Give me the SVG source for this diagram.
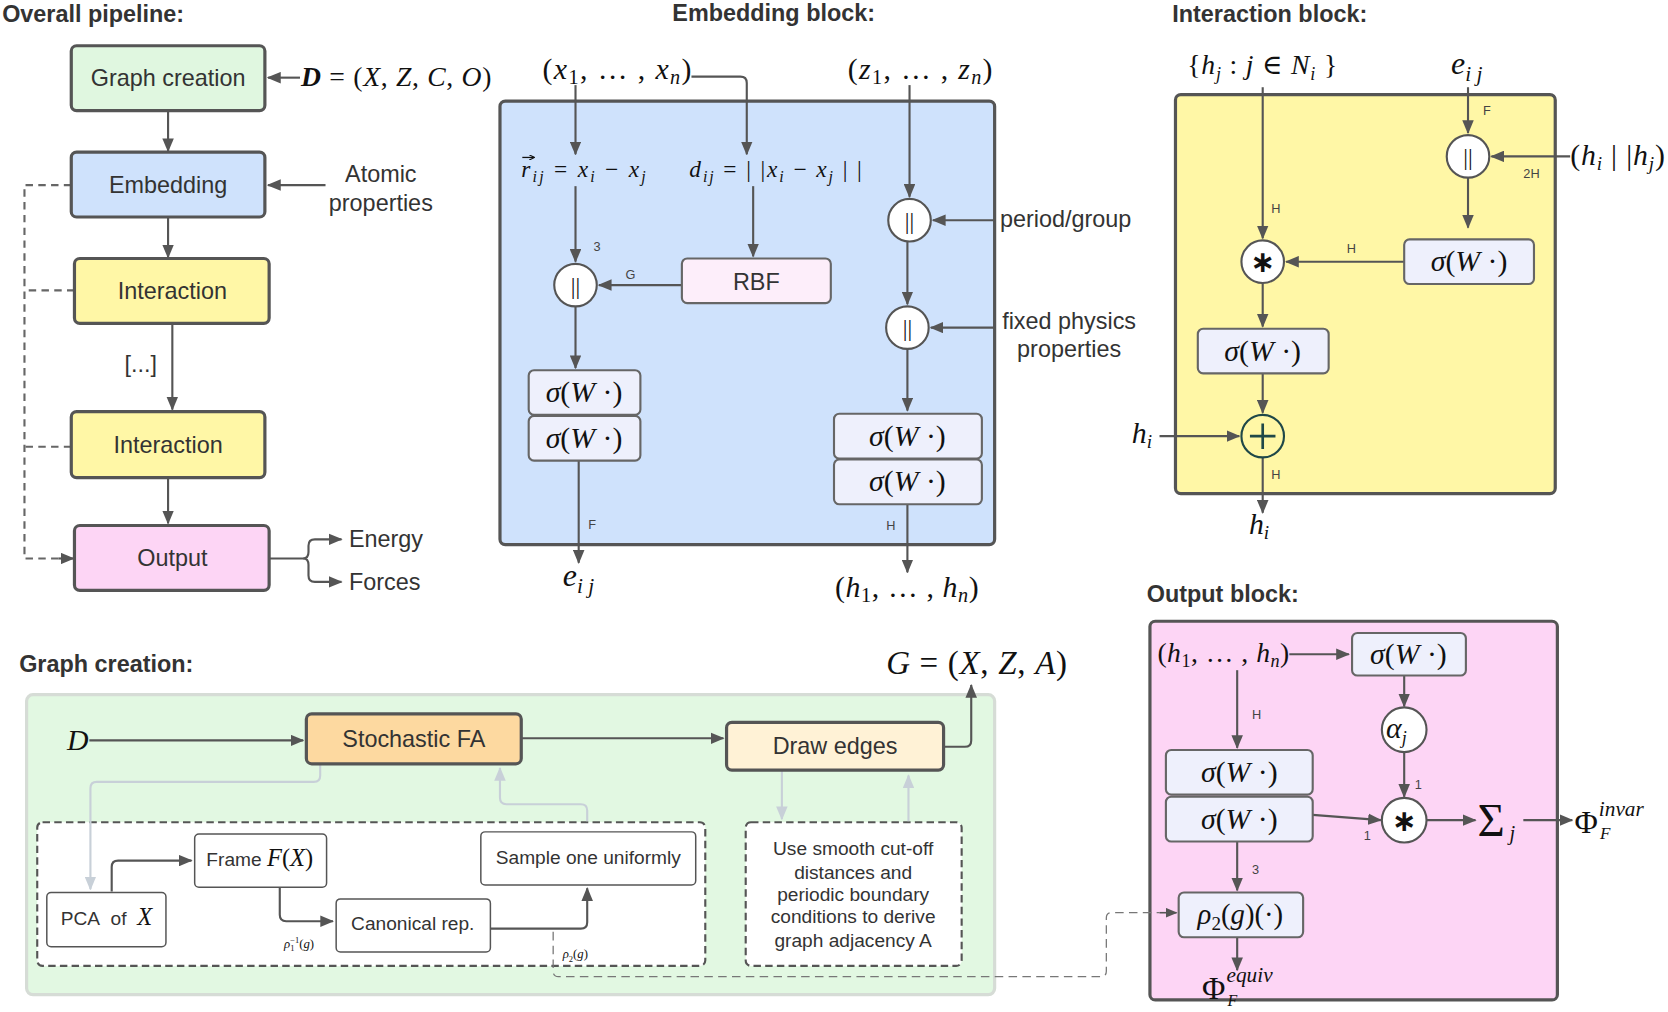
<svg xmlns="http://www.w3.org/2000/svg" width="1668" height="1012" viewBox="0 0 1668 1012">
<style>
.h{font-family:"Liberation Sans",Arial,sans-serif;font-weight:bold;font-size:22px;fill:#333}
.t{font-family:"Liberation Sans",Arial,sans-serif;font-size:22px;fill:#333}
.s{font-family:"Liberation Sans",Arial,sans-serif;font-size:18px;fill:#333}
.l{font-family:"Liberation Sans",Arial,sans-serif;font-size:12px;fill:#444}
.m{font-family:"Liberation Serif","DejaVu Serif",serif;font-style:italic;fill:#111}
.n{font-style:normal}
.c{text-anchor:middle}
.box{stroke:#555;stroke-width:3}
.ib{fill:#eef0fc;stroke:#666;stroke-width:2}
.wb{fill:#fff;stroke:#555;stroke-width:1.4}
.db{fill:#fff;stroke:#555;stroke-width:2;stroke-dasharray:7 4}
.cir{fill:#fff;stroke:#555;stroke-width:2}
.k{fill:none;stroke:#555;stroke-width:2}
.ka{fill:none;stroke:#555;stroke-width:2;marker-end:url(#a)}
.ga{fill:none;stroke:#c8d0d8;stroke-width:2;marker-end:url(#g)}
.dash{fill:none;stroke:#666;stroke-width:2;stroke-dasharray:7 5}
</style>
<defs>
<marker id="a" viewBox="0 0 12 10" refX="11" refY="5" markerWidth="13" markerHeight="11" markerUnits="userSpaceOnUse" orient="auto"><path d="M0,0 L12,5 L0,10 z" fill="#555"/></marker>
<marker id="g" viewBox="0 0 12 10" refX="11" refY="5" markerWidth="13" markerHeight="11" markerUnits="userSpaceOnUse" orient="auto"><path d="M0,0 L12,5 L0,10 z" fill="#c8d0d8"/></marker>
<marker id="sm" viewBox="0 0 12 10" refX="11" refY="5" markerWidth="11" markerHeight="9" markerUnits="userSpaceOnUse" orient="auto"><path d="M0,0 L12,5 L0,10 z" fill="#555"/></marker>
<marker id="vec" viewBox="0 0 10 10" refX="9" refY="5" markerWidth="5" markerHeight="5" markerUnits="userSpaceOnUse" orient="auto"><path d="M0,0 L10,5 L0,10" fill="none" stroke="#111" stroke-width="2"/></marker>
</defs>
<rect width="1668" height="1012" fill="#fff"/>
<g transform="scale(1.06378)">
<g id="titles">
<text class="h" x="2" y="21">Overall pipeline:</text>
<text class="h" x="632" y="20">Embedding block:</text>
<text class="h" x="1102" y="21">Interaction block:</text>
<text class="h" x="1078" y="566">Output block:</text>
<text class="h" x="18" y="632">Graph creation:</text>
</g>

<g id="embedding-block"><rect x="470" y="95" width="465" height="417" rx="5" fill="#cfe2fc" class="box"/></g>
<g id="interaction-block"><rect x="1105" y="89" width="357" height="375" rx="5" fill="#fff7a6" class="box"/></g>
<g id="output-block"><rect x="1081" y="584" width="383" height="356" rx="5" fill="#fdd5f5" class="box"/></g>
<g id="graph-creation-block"><rect x="25" y="653" width="910" height="282" rx="6" fill="#e2f8e2" stroke="#d6dcd6" stroke-width="3"/></g>
<g id="frame-group"><rect x="35" y="773" width="628" height="135" rx="5" class="db"/></g>
<g id="edge-note"><rect x="701" y="773" width="203" height="135" rx="5" class="db"/>
<text class="s c" x="802" y="804">Use smooth cut-off</text>
<text class="s c" x="802" y="826">distances and</text>
<text class="s c" x="802" y="847">periodic boundary</text>
<text class="s c" x="802" y="868">conditions to derive</text>
<text class="s c" x="802" y="890">graph adjacency A</text>
</g>

<g id="connectors">
<path class="ka" d="M282,73 H252"/>
<path class="ka" d="M158,104 V142"/>
<path class="ka" d="M306,174 H252"/>
<path class="ka" d="M158,204 V242"/>
<path class="ka" d="M162,304 V385"/>
<path class="ka" d="M158,449 V492"/>
<path class="dash" d="M67,174 H23 V525 H55"/>
<path class="ka" d="M55,525 H69"/>
<path class="dash" d="M70,273 H23"/>
<path class="dash" d="M67,420 H23"/>
<path class="k" d="M253,525 H285"/>
<path class="ka" d="M285,525 Q290,525 290,519 V513 Q290,507 296,507 H321"/>
<path class="ka" d="M285,525 Q290,525 290,531 V541 Q290,547 296,547 H321"/>
<path class="ka" d="M541,80 V145"/>
<path class="ka" d="M650,72 H696 Q702,72 702,78 V145"/>
<path class="ka" d="M541,175 V246"/>
<path class="ka" d="M708,175 V241"/>
<path class="ka" d="M641,268 H563"/>
<path class="ka" d="M541,288 V346"/>
<path class="ka" d="M544,433 V529"/>
<path class="ka" d="M855,80 V185"/>
<path class="ka" d="M935,207 H877"/>
<path class="ka" d="M853,227 V286"/>
<path class="ka" d="M935,308 H875"/>
<path class="ka" d="M853,328 V386"/>
<path class="ka" d="M853,474 V538"/>
<path class="ka" d="M1187,82 V224"/>
<path class="ka" d="M1380,82 V125"/>
<path class="ka" d="M1476,147 H1402"/>
<path class="ka" d="M1380,167 V214"/>
<path class="ka" d="M1320,246 H1209"/>
<path class="ka" d="M1187,266 V307"/>
<path class="ka" d="M1187,351 V388"/>
<path class="ka" d="M1090,410 H1165"/>
<path class="ka" d="M1187,430 V482"/>
<path class="ka" d="M1212,615 H1268"/>
<path class="ka" d="M1320,635 V664"/>
<path class="ka" d="M1320,707 V749"/>
<path class="ka" d="M1163,630 V703"/>
<path class="ka" d="M1234,766 L1298,771"/>
<path class="ka" d="M1341,771 H1387"/>
<path class="ka" d="M1432,771 H1478"/>
<path class="ka" d="M1163,791 V837"/>
<path class="ka" d="M1163,881 V912"/>
<path class="ka" d="M84,696 H285"/>
<path class="ka" d="M490,694 H680"/>
<path class="ka" d="M887,702 H907 Q913,702 913,696 V644"/>
<path class="ga" d="M301,718 V729 Q301,735 295,735 H91 Q85,735 85,741 V836"/>
<path class="ga" d="M552,772 V762 Q552,756 546,756 H476 Q470,756 470,750 V722"/>
<path class="ga" d="M735,724 V770"/>
<path class="ga" d="M854,772 V729"/>
<path class="ka" d="M105,838 V815 Q105,809 111,809 H180"/>
<path class="ka" d="M263,834 V860 Q263,866 269,866 H313"/>
<path class="ka" d="M461,873 H546 Q552,873 552,867 V835"/>
<path fill="none" stroke="#777" stroke-width="1.2" stroke-dasharray="8 5" d="M520,876 V913 Q520,918 525,918 H1035 Q1040,918 1040,913 V863 Q1040,858 1045,858 H1090"/>
<path d="M1090,858 H1106" fill="none" stroke="#555" stroke-width="1.5" marker-end="url(#sm)"/>
</g>

<g id="p-graph"><rect x="67" y="43" width="182" height="61" rx="5" fill="#e0f7e0" class="box"/><text class="t c" x="158" y="81">Graph creation</text></g>
<g id="p-embed"><rect x="67" y="143" width="182" height="61" rx="5" fill="#cfe2fc" class="box"/><text class="t c" x="158" y="181">Embedding</text></g>
<g id="p-int1"><rect x="70" y="243" width="183" height="61" rx="5" fill="#fff7a6" class="box"/><text class="t c" x="162" y="281">Interaction</text></g>
<g id="p-int2"><rect x="67" y="387" width="182" height="62" rx="5" fill="#fff7a6" class="box"/><text class="t c" x="158" y="426">Interaction</text></g>
<g id="p-out"><rect x="70" y="494" width="183" height="61" rx="5" fill="#fdd5f5" class="box"/><text class="t c" x="162" y="532">Output</text></g>
<g id="p-labels">
<text class="m" x="283" y="81" font-size="26" textLength="179" lengthAdjust="spacing"><tspan font-weight="bold">D</tspan><tspan class="n"> = (</tspan>X<tspan class="n">, </tspan>Z<tspan class="n">, </tspan>C<tspan class="n">, </tspan>O<tspan class="n">)</tspan></text>
<text class="t c" x="358" y="171">Atomic</text>
<text class="t c" x="358" y="198">properties</text>
<text class="t" x="117" y="350">[...]</text>
<text class="t" x="328" y="514">Energy</text>
<text class="t" x="328" y="555">Forces</text>
</g>

<g id="e-labels">
<text class="m" x="510" y="74" font-size="28" textLength="140" lengthAdjust="spacing"><tspan class="n">(</tspan>x<tspan class="n" font-size="19" dy="5">1</tspan><tspan class="n" dy="-5">, … , </tspan>x<tspan font-size="19" dy="5">n</tspan><tspan class="n" dy="-5">)</tspan></text>
<text class="m" x="797" y="74" font-size="28" textLength="136" lengthAdjust="spacing"><tspan class="n">(</tspan>z<tspan class="n" font-size="19" dy="5">1</tspan><tspan class="n" dy="-5">, … , </tspan>z<tspan font-size="19" dy="5">n</tspan><tspan class="n" dy="-5">)</tspan></text>
<path d="M491,148 H502" fill="none" stroke="#111" stroke-width="1.2" marker-end="url(#vec)"/>
<text class="m" x="490" y="166" font-size="22" textLength="117" lengthAdjust="spacing">r<tspan font-size="15" dy="5">ij</tspan><tspan class="n" dy="-5"> = </tspan>x<tspan font-size="15" dy="5">i</tspan><tspan class="n" dy="-5"> − </tspan>x<tspan font-size="15" dy="5">j</tspan></text>
<text class="m" x="648" y="166" font-size="22" textLength="162" lengthAdjust="spacing">d<tspan font-size="15" dy="5">ij</tspan><tspan class="n" dy="-5"> = | |</tspan>x<tspan font-size="15" dy="5">i</tspan><tspan class="n" dy="-5"> − </tspan>x<tspan font-size="15" dy="5">j</tspan><tspan class="n" dy="-5"> | |</tspan></text>
<text class="l" x="558" y="236">3</text>
<text class="l" x="588" y="262">G</text>
<text class="l" x="553" y="497">F</text>
<text class="l" x="833" y="498">H</text>
<text class="t" x="940" y="213">period/group</text>
<text class="t c" x="1005" y="309">fixed physics</text>
<text class="t c" x="1005" y="336">properties</text>
<text class="m" x="529" y="551" font-size="30">e<tspan font-size="20" dy="6">i j</tspan></text>
<text class="m" x="785" y="561" font-size="28" textLength="135" lengthAdjust="spacing"><tspan class="n">(</tspan>h<tspan class="n" font-size="19" dy="5">1</tspan><tspan class="n" dy="-5">, … , </tspan>h<tspan font-size="19" dy="5">n</tspan><tspan class="n" dy="-5">)</tspan></text>
</g>
<g id="e-rbf"><rect x="641" y="243" width="140" height="42" rx="5" fill="#fdeefa" stroke="#666" stroke-width="2"/><text class="t c" x="711" y="273">RBF</text></g>
<g id="e-cat1"><circle cx="541" cy="268" r="20" class="cir"/><text class="m n c" x="541" y="276" font-size="22">||</text></g>
<g id="e-cat2"><circle cx="855" cy="207" r="20" class="cir"/><text class="m n c" x="855" y="215" font-size="22">||</text></g>
<g id="e-cat3"><circle cx="853" cy="308" r="20" class="cir"/><text class="m n c" x="853" y="316" font-size="22">||</text></g>
<g id="e-mlp1"><rect x="497" y="348" width="105" height="42" rx="5" class="ib"/><text class="m c" x="549" y="378" font-size="28">σ<tspan class="n">(</tspan>W<tspan class="n"> ·)</tspan></text></g>
<g id="e-mlp2"><rect x="497" y="391" width="105" height="42" rx="5" class="ib"/><text class="m c" x="549" y="421" font-size="28">σ<tspan class="n">(</tspan>W<tspan class="n"> ·)</tspan></text></g>
<g id="e-mlp3"><rect x="784" y="389" width="139" height="42" rx="5" class="ib"/><text class="m c" x="853" y="419" font-size="28">σ<tspan class="n">(</tspan>W<tspan class="n"> ·)</tspan></text></g>
<g id="e-mlp4"><rect x="784" y="432" width="139" height="42" rx="5" class="ib"/><text class="m c" x="853" y="462" font-size="28">σ<tspan class="n">(</tspan>W<tspan class="n"> ·)</tspan></text></g>

<g id="i-labels">
<text class="m" x="1116" y="70" font-size="26" textLength="141" lengthAdjust="spacing"><tspan class="n">{</tspan>h<tspan font-size="17" dy="5">j</tspan><tspan class="n" dy="-5"> : </tspan>j<tspan class="n"> ∈ </tspan>N<tspan font-size="17" dy="5">i</tspan><tspan class="n" dy="-5"> }</tspan></text>
<text class="m" x="1364" y="70" font-size="30">e<tspan font-size="20" dy="6">i j</tspan></text>
<text class="m" x="1476" y="155" font-size="28" textLength="89" lengthAdjust="spacing"><tspan class="n">(</tspan>h<tspan font-size="18" dy="5">i</tspan><tspan class="n" dy="-5"> | |</tspan>h<tspan font-size="18" dy="5">j</tspan><tspan class="n" dy="-5">)</tspan></text>
<text class="l" x="1394" y="108">F</text>
<text class="l" x="1432" y="167">2H</text>
<text class="l" x="1195" y="200">H</text>
<text class="l" x="1266" y="238">H</text>
<text class="l" x="1195" y="450">H</text>
<text class="m" x="1064" y="416" font-size="28">h<tspan font-size="18" dy="5">i</tspan></text>
<text class="m" x="1174" y="502" font-size="28">h<tspan font-size="18" dy="5">i</tspan></text>
</g>
<g id="i-cat"><circle cx="1380" cy="147" r="20" class="cir"/><text class="m n c" x="1380" y="155" font-size="22">||</text></g>
<g id="i-mul"><circle cx="1187" cy="246" r="20" class="cir"/><text class="c" x="1187" y="256" font-family="DejaVu Sans,sans-serif" font-weight="bold" font-size="28" fill="#111">∗</text></g>
<g id="i-mlp1"><rect x="1320" y="225" width="122" height="42" rx="5" class="ib"/><text class="m c" x="1381" y="255" font-size="28">σ<tspan class="n">(</tspan>W<tspan class="n"> ·)</tspan></text></g>
<g id="i-mlp2"><rect x="1126" y="309" width="123" height="42" rx="5" class="ib"/><text class="m c" x="1187" y="339" font-size="28">σ<tspan class="n">(</tspan>W<tspan class="n"> ·)</tspan></text></g>
<g id="i-add"><circle cx="1187" cy="410" r="20" fill="#fff7a6" stroke="#1f4848" stroke-width="2"/><path d="M1175,410 H1199 M1187,398 V422" stroke="#1f4848" stroke-width="2.5"/></g>

<g id="o-labels">
<text class="m" x="1088" y="622" font-size="26" textLength="124" lengthAdjust="spacing"><tspan class="n">(</tspan>h<tspan class="n" font-size="17" dy="5">1</tspan><tspan class="n" dy="-5">, … , </tspan>h<tspan font-size="17" dy="5">n</tspan><tspan class="n" dy="-5">)</tspan></text>
<text class="l" x="1177" y="676">H</text>
<text class="l" x="1330" y="742">1</text>
<text class="l" x="1282" y="790">1</text>
<text class="l" x="1177" y="822">3</text>
<text class="m n" x="1389" y="786" font-size="44">Σ</text>
<text class="m" x="1419" y="790" font-size="19">j</text>
<text class="m n" x="1480" y="783" font-size="30">Φ</text>
<text class="m" x="1503" y="767" font-size="20">invar</text>
<text class="m" x="1504" y="789" font-size="16">F</text>
<text class="m n" x="1130" y="939" font-size="30">Φ</text>
<text class="m" x="1153" y="923" font-size="20">equiv</text>
<text class="m" x="1154" y="946" font-size="15">F</text>
</g>
<g id="o-mlp1"><rect x="1271" y="595" width="107" height="40" rx="5" class="ib"/><text class="m c" x="1324" y="624" font-size="28">σ<tspan class="n">(</tspan>W<tspan class="n"> ·)</tspan></text></g>
<g id="o-alpha"><circle cx="1320" cy="686" r="21" class="cir"/><text class="m" x="1303" y="694" font-size="28">α<tspan font-size="17" dy="5">j</tspan></text></g>
<g id="o-mul"><circle cx="1320" cy="771" r="21" class="cir"/><text class="c" x="1320" y="781" font-family="DejaVu Sans,sans-serif" font-weight="bold" font-size="28" fill="#111">∗</text></g>
<g id="o-mlp2"><rect x="1096" y="705" width="138" height="42" rx="5" class="ib"/><text class="m c" x="1165" y="735" font-size="28">σ<tspan class="n">(</tspan>W<tspan class="n"> ·)</tspan></text></g>
<g id="o-mlp3"><rect x="1096" y="749" width="138" height="42" rx="5" class="ib"/><text class="m c" x="1165" y="779" font-size="28">σ<tspan class="n">(</tspan>W<tspan class="n"> ·)</tspan></text></g>
<g id="o-rho"><rect x="1108" y="839" width="117" height="42" rx="5" class="ib"/><text class="m c" x="1166" y="869" font-size="27">ρ<tspan class="n" font-size="18" dy="5">2</tspan><tspan class="n" dy="-5">(</tspan>g<tspan class="n">)(·)</tspan></text></g>

<g id="g-labels">
<text class="m" x="63" y="705" font-size="28">D</text>
<text class="m" x="833" y="634" font-size="31" textLength="170" lengthAdjust="spacing">G<tspan class="n"> = (</tspan>X<tspan class="n">, </tspan>Z<tspan class="n">, </tspan>A<tspan class="n">)</tspan></text>
<text class="m" x="267" y="891" font-size="12">ρ<tspan class="n" font-size="8" dy="3">1</tspan><tspan class="n" font-size="8" dx="-4" dy="-8">−1</tspan><tspan class="n" dy="5">(</tspan>g<tspan class="n">)</tspan></text>
<text class="m" x="529" y="901" font-size="12">ρ<tspan class="n" font-size="8" dy="3">2</tspan><tspan class="n" dy="-3">(</tspan>g<tspan class="n">)</tspan></text>
</g>
<g id="g-sfa"><rect x="288" y="671" width="202" height="47" rx="5" fill="#fdd9a0" class="box"/><text class="t c" x="389" y="702">Stochastic FA</text></g>
<g id="g-draw"><rect x="683" y="679" width="204" height="45" rx="5" fill="#fff2d6" class="box"/><text class="t c" x="785" y="709">Draw edges</text></g>
<g id="g-pca"><rect x="44" y="839" width="112" height="51" rx="4" class="wb"/><text class="s" x="57" y="870">PCA&#160; of&#160; <tspan class="m" font-size="23">X</tspan></text></g>
<g id="g-frame"><rect x="183" y="784" width="124" height="50" rx="4" class="wb"/><text class="s" x="194" y="814">Frame <tspan class="m" font-size="23">F</tspan><tspan class="m n" font-size="23">(</tspan><tspan class="m" font-size="23">X</tspan><tspan class="m n" font-size="23">)</tspan></text></g>
<g id="g-canon"><rect x="316" y="845" width="145" height="50" rx="4" class="wb"/><text class="s c" x="388" y="874">Canonical rep.</text></g>
<g id="g-sample"><rect x="452" y="782" width="202" height="50" rx="4" class="wb"/><text class="s c" x="553" y="812">Sample one uniformly</text></g>
</g>
</svg>
